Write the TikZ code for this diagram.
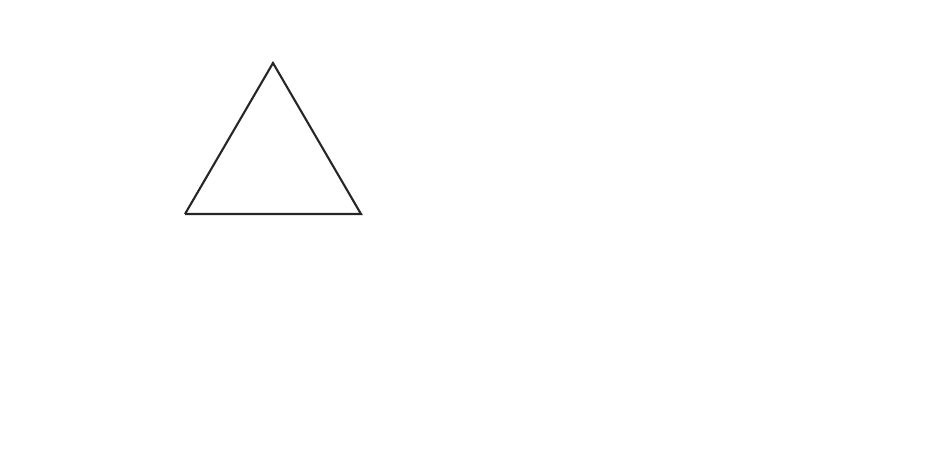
\documentclass[tikz,border=0pt]{standalone}
\usepackage{tikz}

\begin{document}
\begin{tikzpicture}
\useasboundingbox (0,0) rectangle (9.5,4.61);
\coordinate (apex) at (2.73,3.98);
\coordinate (left) at (1.85,2.47);
\coordinate (right) at (3.61,2.47);
\draw[black!85, line width=0.6pt] (left) -- (apex) -- (right) -- (left);
\end{tikzpicture}
\end{document}
